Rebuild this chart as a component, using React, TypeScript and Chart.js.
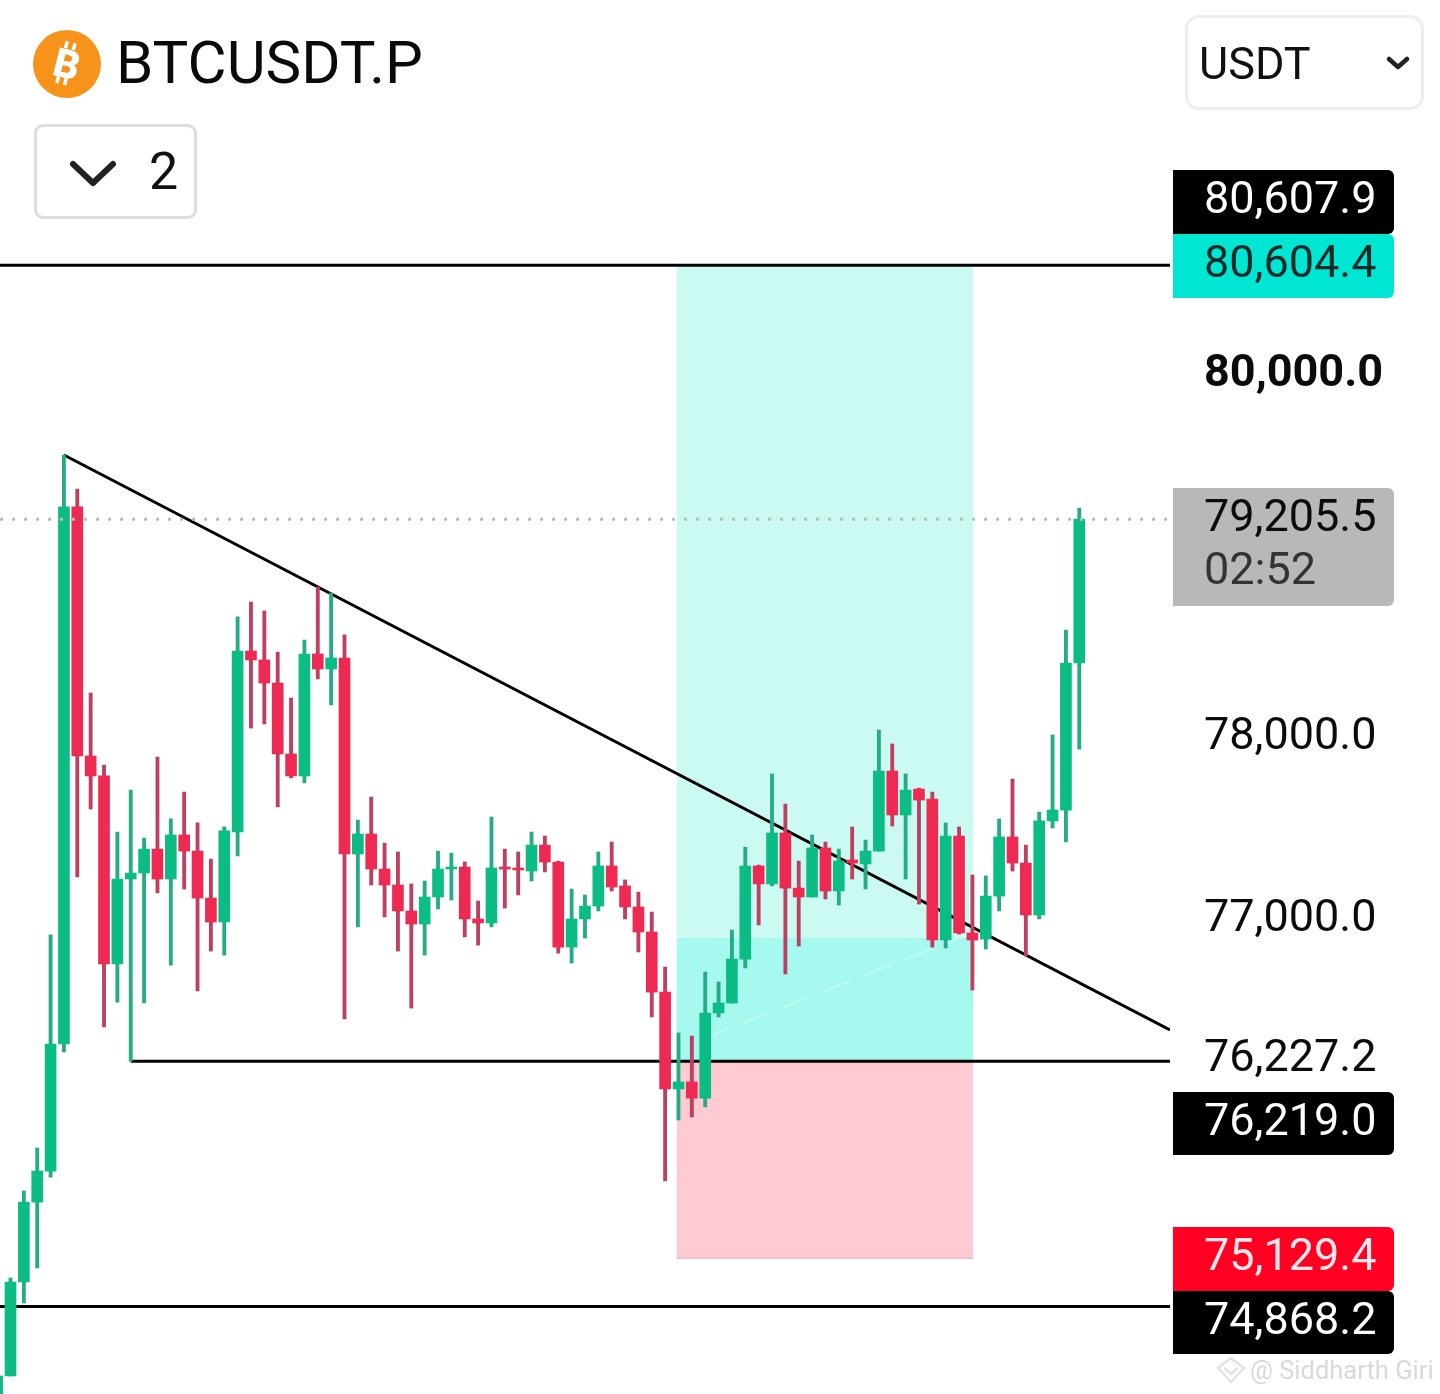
import React, { useEffect, useRef } from "react";
import { Chart, registerables } from "chart.js";

Chart.register(...registerables);

const opens = [74242, 74485, 75003, 75443, 75614, 76314, 79273, 77901, 77791, 76755, 77223, 77256, 77388, 77223, 77466, 77377, 77118, 76986, 77482, 78479, 78430, 78303, 77912, 77791, 78463, 78380, 78441, 77361, 77471, 77278, 77190, 77047, 76975, 77124, 77278, 77289, 77003, 76981, 77289, 77284, 77267, 77410, 77317, 76848, 77003, 77074, 77295, 77185, 77069, 76931, 76600, 76066, 76105, 76016, 76485, 76540, 76782, 77295, 77196, 77477, 77173, 77124, 77394, 77157, 77328, 77306, 77377, 77818, 77576, 77719, 77664, 76887, 77460, 76926, 76892, 77129, 77455, 77311, 77025, 77543, 77603, 78413];
const highs = [74485, 75025, 75504, 75741, 76915, 79559, 79372, 78248, 77851, 77482, 77713, 77449, 77895, 77554, 77702, 77532, 77333, 77510, 78667, 78749, 78700, 78474, 78220, 78540, 78832, 78799, 78568, 77548, 77675, 77421, 77372, 77196, 77212, 77377, 77366, 77317, 77102, 77565, 77388, 77372, 77482, 77460, 77322, 77168, 77135, 77372, 77427, 77218, 77151, 77041, 76738, 76375, 76358, 76711, 76656, 76942, 77399, 77300, 77802, 77636, 77322, 77466, 77427, 77388, 77510, 77438, 78044, 77967, 77802, 77724, 77702, 77532, 77510, 77245, 77240, 77554, 77774, 77410, 77592, 78017, 78595, 79267];
const lows = [74242, 74485, 74887, 75080, 75581, 76270, 77234, 77609, 76408, 76545, 76219, 76540, 77146, 76749, 77168, 76606, 76826, 76804, 77350, 78055, 78077, 77620, 77780, 77752, 78325, 78182, 76452, 76959, 77190, 77014, 76826, 76512, 76804, 77058, 77107, 76904, 76859, 76959, 77063, 77135, 77212, 77262, 76815, 76760, 76898, 77047, 77157, 77003, 76821, 76463, 75559, 75895, 75912, 75967, 76463, 76540, 76733, 76970, 77185, 76700, 76854, 77124, 77113, 77080, 77223, 77168, 77377, 77515, 77223, 77085, 76848, 76843, 76920, 76611, 76837, 77047, 77267, 76799, 77003, 77504, 77427, 77939];
const closes = [74485, 75003, 75443, 75614, 76314, 79273, 77901, 77791, 76755, 77223, 77256, 77388, 77223, 77466, 77377, 77118, 76986, 77488, 78479, 78430, 78303, 77912, 77791, 78463, 78380, 78441, 77361, 77471, 77278, 77190, 77047, 76975, 77124, 77278, 77289, 77003, 76981, 77284, 77278, 77273, 77410, 77317, 76848, 77003, 77074, 77295, 77179, 77069, 76931, 76600, 76066, 76105, 76016, 76485, 76540, 76782, 77295, 77196, 77477, 77173, 77124, 77394, 77157, 77322, 77311, 77377, 77818, 77576, 77713, 77658, 76887, 77460, 76926, 76887, 77129, 77455, 77311, 77025, 77543, 77603, 78413, 79205.5];

const axisTicks = [80000, 78000, 77000, 76227.2];
const resistance = 80604.4;
const support = 76219;
const lowerLevel = 74868.2;
const lastPrice = 79205.5;
const stopPrice = 75129.4;
const entryPrice = 76898;
const trendStart = { x: 5, y: 79559 };
const trendEnd = { x: 87.79, y: 76391 };
const faintStart = { x: 52.6, y: 76336 };
const faintEnd = { x: 73, y: 76926 };
const positionStart = 50.87;
const positionEnd = 73.05;
const supportStart = 10;
const xMin = 0.214;
const xMax = 87.79;

const GREEN = "#0BBD85";
const RED = "#EF2A52";
const GREEN_WICK = "#25AC85";
const RED_WICK = "#BE3F60";

const bandsPlugin = {
  id: "positionBands",
  beforeDatasetsDraw(chart: any) {
    const { ctx, scales } = chart;
    const l = scales.x.getPixelForValue(positionStart);
    const r = scales.x.getPixelForValue(positionEnd);
    const y = (v: number) => scales.y.getPixelForValue(v);
    ctx.save();
    ctx.fillStyle = "#CBFAF3";
    ctx.fillRect(l, y(resistance), r - l, y(entryPrice) - y(resistance));
    ctx.fillStyle = "#A5F9EE";
    ctx.fillRect(l, y(entryPrice), r - l, y(support) - y(entryPrice));
    ctx.fillStyle = "#FFCBD2";
    ctx.fillRect(l, y(support), r - l, y(stopPrice) - y(support));
    ctx.fillStyle = "#F9BFC6";
    ctx.fillRect(l, y(stopPrice) - 2, r - l, 2);
    ctx.restore();
  },
};

const levelLine = (from: number, value: number, color: string, order: number, width = 3, dash: number[] = []) => ({
  type: "line",
  data: [
    { x: from, y: value },
    { x: xMax, y: value },
  ],
  borderColor: color,
  borderWidth: width,
  borderDash: dash,
  pointRadius: 0,
  order,
});

const tags = [
  { label: "80,607.9", top: 170, h: 64, bg: "#000", fg: "#fff" },
  { label: "80,604.4", top: 234, h: 64, bg: "#00E6D2", fg: "#0a2a28" },
  { label: "76,219.0", top: 1092, h: 63, bg: "#000", fg: "#fff" },
  { label: "75,129.4", top: 1227, h: 64, bg: "#FF0022", fg: "#ffe8ea" },
  { label: "74,868.2", top: 1291, h: 63, bg: "#000", fg: "#fff" },
];

const font = "Roboto, sans-serif";
const abs = (o: React.CSSProperties): React.CSSProperties => ({ position: "absolute", ...o });

export default function App() {
  const ref = useRef<HTMLCanvasElement>(null);
  useEffect(() => {
    const idx = opens.map((_, i) => i);
    const colorOf = (i: number, up: string, down: string) => (closes[i] >= opens[i] && ![38, 39].includes(i) ? up : down);
    const chart = new Chart(ref.current as HTMLCanvasElement, {
      type: "bar",
      data: {
        datasets: [
          {
            type: "bar",
            data: idx.map((i) => ({ x: i, y: [lows[i], highs[i]] })),
            backgroundColor: idx.map((i) => colorOf(i, GREEN_WICK, RED_WICK)),
            barThickness: 3.2,
            grouped: false,
            borderWidth: 0,
            order: 3,
          },
          {
            type: "bar",
            data: idx.map((i) => ({ x: i, y: [opens[i], closes[i]] })),
            backgroundColor: idx.map((i) => colorOf(i, GREEN, RED)),
            barThickness: 11,
            grouped: false,
            borderWidth: 0,
            order: 2,
          },
          {
            type: "line",
            data: [trendStart, trendEnd],
            borderColor: "#000",
            borderWidth: 3,
            pointRadius: 0,
            order: 4,
          },
          levelLine(xMin, resistance, "#000", 5),
          levelLine(supportStart, support, "#000", 5),
          levelLine(xMin, lowerLevel, "#000", 5),
          levelLine(xMin, lastPrice, "#BDBDBD", 1, 3, [3, 9]),
          {
            type: "line",
            data: [faintStart, faintEnd],
            borderColor: "rgba(255,255,255,0.3)",
            borderWidth: 2,
            borderDash: [30, 14],
            pointRadius: 0,
            order: 6,
          },
        ] as any,
      },
      options: {
        responsive: false,
        animation: false,
        layout: { padding: 0 },
        plugins: { legend: { display: false }, tooltip: { enabled: false } },
        scales: {
          x: { type: "linear", min: xMin, max: xMax, offset: false, display: false, grid: { display: false } },
          y: {
            type: "linear",
            position: "right",
            min: 74385.7,
            max: 82066.1,
            grid: { display: false, drawTicks: false },
            border: { display: false },
            afterBuildTicks: (s: any) => {
              s.ticks = axisTicks.map((value) => ({ value }));
            },
            afterFit: (s: any) => {
              s.width = 270;
              s.paddingTop = 0;
              s.paddingBottom = 0;
            },
            ticks: {
              autoSkip: false,
              padding: 34,
              labelOffset: 0,
              color: "#0b0b0b",
              callback: (v: any) => Number(v).toLocaleString("en-US", { minimumFractionDigits: 1, maximumFractionDigits: 1 }),
              font: (c: any) => ({ family: "Roboto", size: 45, weight: c.tick && c.tick.value === 80000 ? "bold" : "normal" }),
            },
          },
        },
      } as any,
      plugins: [bandsPlugin] as any,
    });
    return () => chart.destroy();
  }, []);

  const textStyle = (o: React.CSSProperties): React.CSSProperties => abs({ fontFamily: font, fontSize: 45, lineHeight: "52px", whiteSpace: "nowrap", ...o });

  return (
    <div style={abs({ left: 0, top: 0, width: 1440, height: 1394, overflow: "hidden", background: "#fff" })}>
      <canvas ref={ref} width={1440} height={1394} style={abs({ left: 0, top: 0, width: 1440, height: 1394 })} />

      <svg width={70} height={70} style={abs({ left: 32, top: 29 })} viewBox="0 0 70 70">
        <circle cx={35} cy={35} r={34} fill="#F7931A" />
        <g transform="rotate(14 35 35)" fill="#fff">
          <text x={35} y={49} textAnchor="middle" fontFamily="Roboto" fontWeight={900} fontSize={40}>B</text>
          <rect x={28} y={13} width={3.5} height={7} />
          <rect x={36} y={13} width={3.5} height={7} />
          <rect x={28} y={49} width={3.5} height={7} />
          <rect x={36} y={49} width={3.5} height={7} />
        </g>
      </svg>
      <div style={abs({ left: 116, top: 28, fontFamily: font, fontSize: 60, lineHeight: "70px", color: "#0a0a0a" })}>BTCUSDT.P</div>

      <div style={abs({ left: 34, top: 124, width: 163, height: 95, boxSizing: "border-box", border: "3px solid #DDD", borderRadius: 9 })} />
      <svg width={60} height={40} style={abs({ left: 63, top: 152 })}>
        <polyline points="10,12 30,31 50,12" fill="none" stroke="#222" strokeWidth={6} strokeLinecap="round" strokeLinejoin="round" />
      </svg>
      <div style={abs({ left: 149, top: 142, fontFamily: font, fontSize: 52, lineHeight: "60px", color: "#111" })}>2</div>

      <div style={abs({ left: 1185, top: 15, width: 239, height: 95, boxSizing: "border-box", border: "3px solid #EEE", borderRadius: 14 })} />
      <div style={textStyle({ left: 1199, top: 38, color: "#111" })}>USDT</div>
      <svg width={30} height={20} style={abs({ left: 1383, top: 53 })}>
        <polyline points="6,6 15,14 24,6" fill="none" stroke="#222" strokeWidth={4.5} strokeLinecap="round" strokeLinejoin="round" />
      </svg>

      {tags.map((t) => (
        <div key={t.label} style={abs({ left: 1173, top: t.top, width: 221, height: t.h, background: t.bg, borderRadius: "0 6px 6px 0" })}>
          <div style={textStyle({ left: 31, top: (t.h - 52) / 2 - 4, color: t.fg })}>{t.label}</div>
        </div>
      ))}
      <div style={abs({ left: 1173, top: 488, width: 221, height: 118, background: "#B8B8B8", borderRadius: "0 6px 6px 0" })}>
        <div style={textStyle({ left: 31, top: 2, color: "#0b0b0b" })}>79,205.5</div>
        <div style={textStyle({ left: 31, top: 55, color: "#333" })}>02:52</div>
      </div>

      <svg width={40} height={30} style={abs({ left: 1216, top: 1356 })}>
        <path d="M15 2 L28 12 L15 26 L2 12 Z M8 12 L15 18 L22 12" fill="none" stroke="#E2E2E2" strokeWidth={2.5} />
      </svg>
      <div style={abs({ left: 1250, top: 1355, fontFamily: font, fontSize: 25.5, lineHeight: "30px", color: "#D9D9D9", whiteSpace: "nowrap" })}>@ Siddharth Giri</div>
    </div>
  );
}
